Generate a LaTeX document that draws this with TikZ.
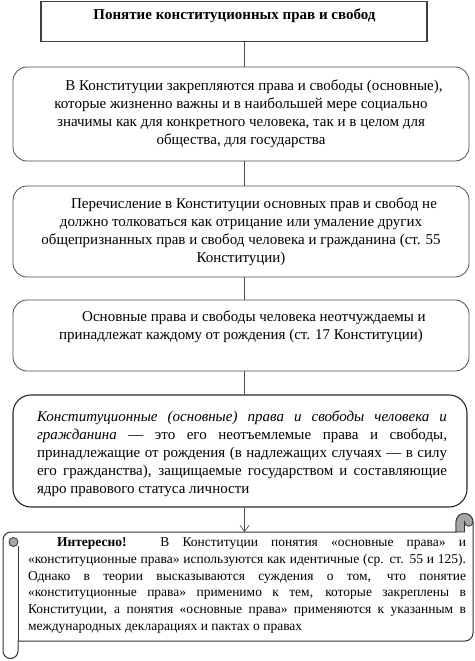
\documentclass[tikz,border=0pt]{standalone}
\usepackage{fontspec}
\setmainfont{Liberation Serif}
\usetikzlibrary{arrows.meta}
\begin{document}
\begin{tikzpicture}[x=1pt,y=-1pt,
  conn/.style={draw=black!70, line width=0.7pt},
  titlebox/.style={draw=black!75, line width=1.6pt, inner sep=0pt},
  rbox/.style={draw=black!70, line width=0.8pt, rounded corners=14pt, inner sep=0pt, minimum width=456pt},
  defbox/.style={draw=black!85, line width=1.1pt, rounded corners=18pt, inner sep=0pt},
  scrollline/.style={draw=black!80, line width=1pt},
  curl/.style={fill=black!35, draw=black!80, line width=0.8pt},
  ctext/.style={inner sep=0pt, align=center, font=\fontsize{15}{18}\selectfont},
  jtext/.style={inner sep=0pt, align=justify, font=\fontsize{15}{18}\selectfont},
  stext/.style={inner sep=0pt, align=justify, font=\fontsize{13.5}{16.7}\selectfont}]
\useasboundingbox (0,0) rectangle (474,661);
\coordinate (cx) at (244.5,0);
% boxes
\node[titlebox, minimum width=386pt, minimum height=40pt] (b0) at (234,21.5) {};
\node[rbox, minimum height=94pt] (b1) at (241,114) {};
\node[rbox, minimum height=91pt] (b2) at (241,231.5) {};
\node[rbox, minimum height=71pt] (b3) at (241,335.5) {};
\node[defbox, minimum width=454pt, minimum height=112pt] (b4) at (240,451) {};
% scroll
\coordinate (sc) at (244.5,532);
\draw[scrollline, fill=white] (3,540) arc[start angle=180, end angle=90, radius=8pt]
  -- (456,532) -- (456,522) arc[start angle=180, end angle=0, radius=8.5pt]
  -- (473,633) arc[start angle=0, end angle=-90, radius=8pt]
  -- (18,641) -- (18,651) arc[start angle=0, end angle=-180, radius=7.5pt] -- cycle;
\draw[curl] (456,532) -- (456,522) arc[start angle=180, end angle=0, radius=8.5pt]
  arc[start angle=0, end angle=-180, radius=4.25pt] -- (464.5,532) -- cycle;
\draw[scrollline] (18,546) -- (18,641);
\draw[curl] (13.5,542) circle[radius=4.5pt];
% texts
\node[ctext, font=\fontsize{15}{18}\selectfont\bfseries] (t0) at (234.5,16) {Понятие конституционных прав и свобод};
\node[ctext] (t1) at (241,113.5) {\hspace*{26pt}В Конституции закрепляются права и свободы (основные),\\
которые жизненно важны и в наибольшей мере социально\\
значимы как для конкретного человека, так и в целом для\\
общества, для государства};
\node[ctext] (t2) at (241,232) {\hspace*{26pt}Перечисление в Конституции основных прав и свобод не\\
должно толковаться как отрицание или умаление других\\
общепризнанных прав и свобод человека и гражданина (ст. 55\\
Конституции)};
\node[ctext] (t3) at (241,326.5) {\hspace*{26pt}Основные права и свободы человека неотчуждаемы и\\
принадлежат каждому от рождения (ст. 17 Конституции)};
\node[jtext, text width=410pt] (t4) at (242,454) {\textit{Конституционные (основные) права и свободы человека и}\linebreak
\textit{гражданина} — это его неотъемлемые права и свободы,\linebreak
принадлежащие от рождения (в надлежащих случаях — в силу\linebreak
его гражданства), защищаемые государством и составляющие\linebreak
ядро правового статуса личности};
\node[stext, text width=438pt] (t5) at (247,585.5) {\hspace*{29pt}\textbf{Интересно!} В Конституции понятия «основные права» и\linebreak
«конституционные права» используются как идентичные (ср. ст. 55 и 125).\linebreak
Однако в теории высказываются суждения о том, что понятие\linebreak
«конституционные права» применимо к тем, которые закреплены в\linebreak
Конституции, а понятия «основные права» применяются к указанным в\linebreak
международных декларациях и пактах о правах};
% connectors
\draw[conn] (b0.south -| cx) -- (b1.north -| cx);
\draw[conn] (b1.south -| cx) -- (b2.north -| cx);
\draw[conn] (b2.south -| cx) -- (b3.north -| cx);
\draw[conn] (b3.south -| cx) -- (b4.north -| cx);
\draw[conn, -{Straight Barb[length=6pt, width=9pt]}] (b4.south -| cx) -- (sc);
\end{tikzpicture}
\end{document}
